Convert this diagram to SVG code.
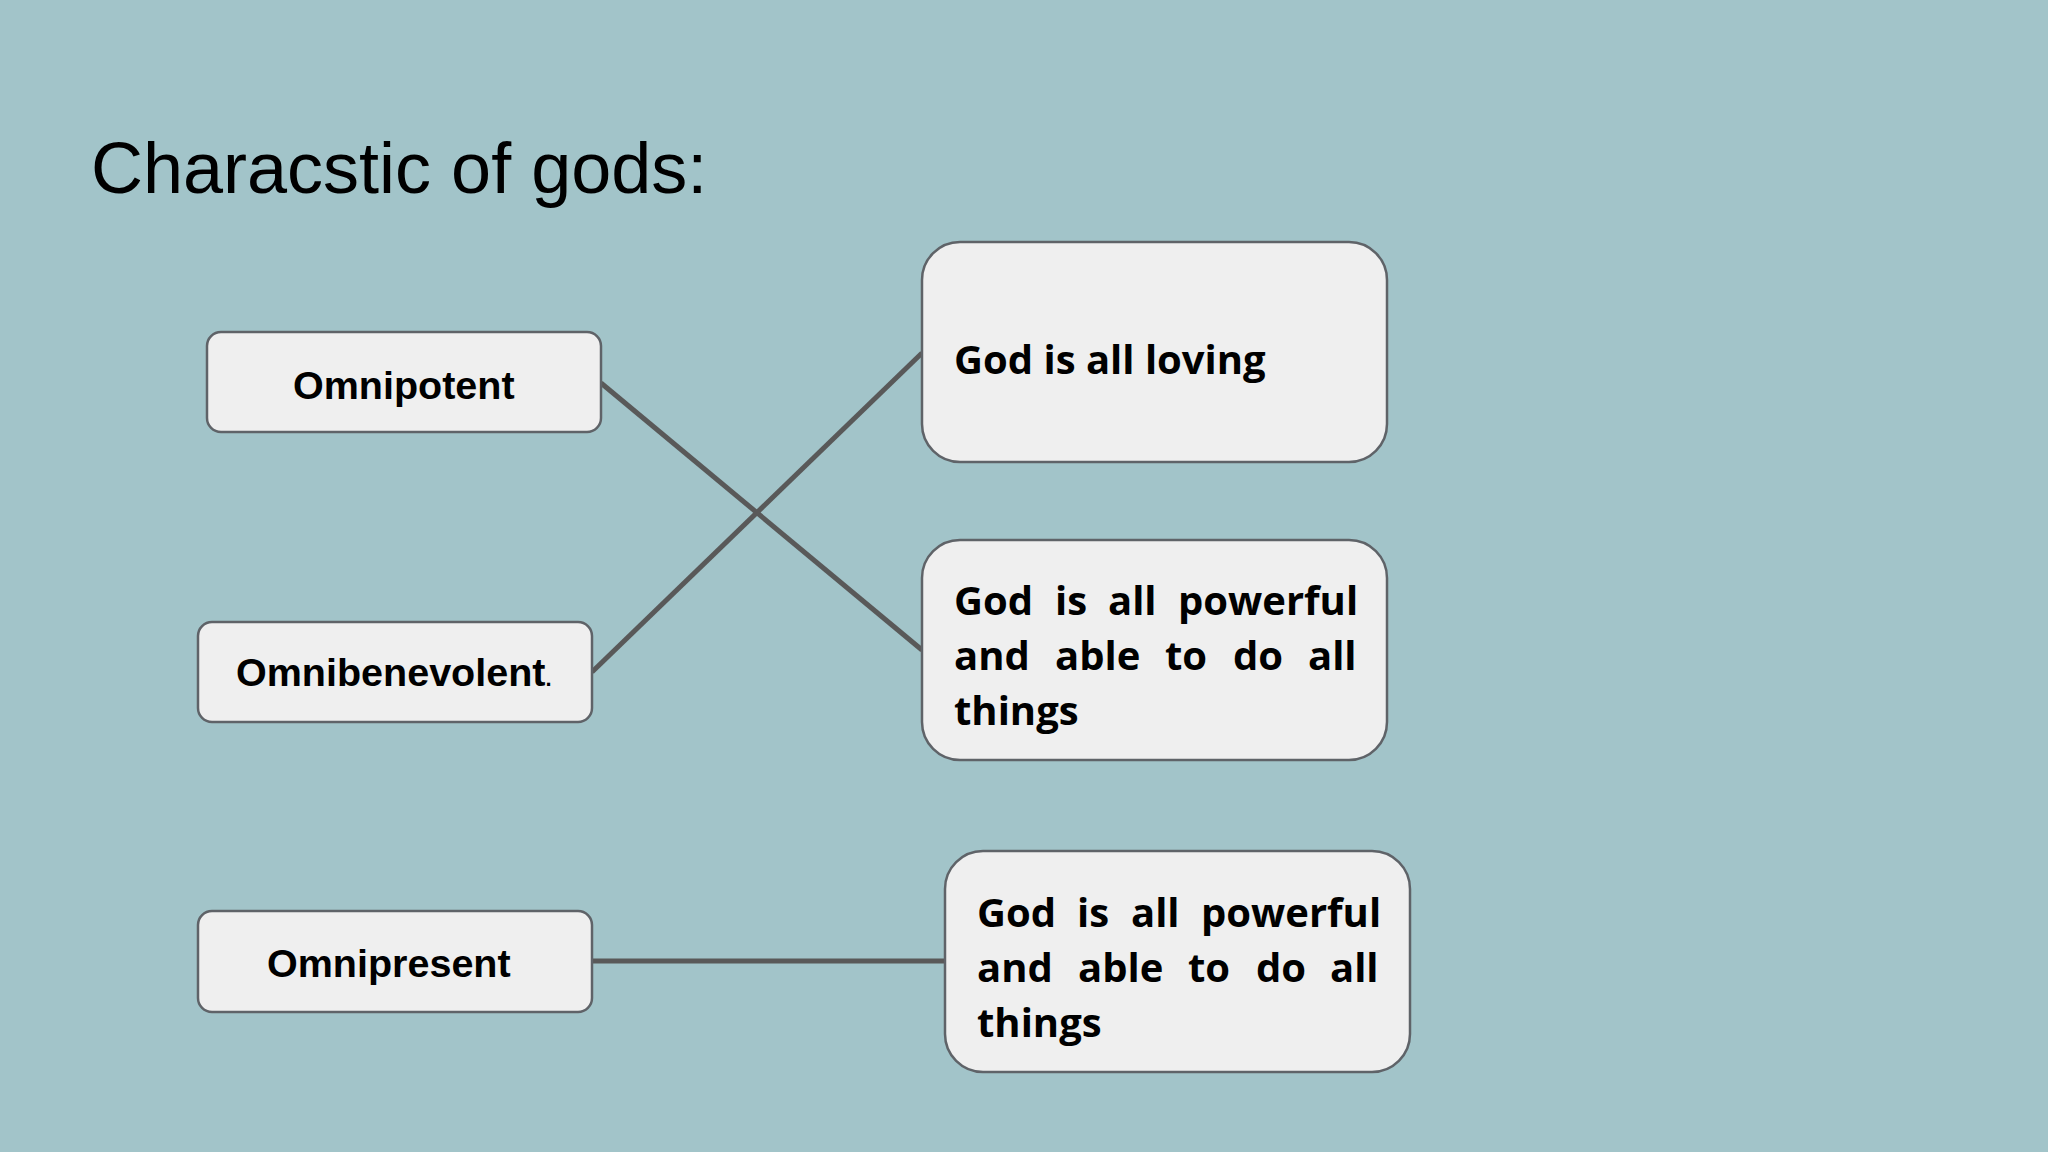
<svg xmlns="http://www.w3.org/2000/svg" width="2048" height="1152" viewBox="0 0 2048 1152">
<style>
.box{fill:#efefef;stroke:#5f6368;stroke-width:2.5}
.lbl{font-family:"Liberation Sans",Arial,sans-serif;font-weight:bold;font-size:39.5px;fill:#000}
.txt{font-family:"Open Sans","Noto Sans",sans-serif;font-weight:bold;font-size:40px;fill:#000}
.conn{stroke:#595959;stroke-width:5;fill:none}
</style>
<rect width="2048" height="1152" fill="#a2c4c9"/>
<text x="91" y="193" font-family="Liberation Sans, Arial, sans-serif" font-size="72" fill="#000">Characstic of gods:</text>
<g id="connectors">
<line class="conn" x1="601" y1="383" x2="922" y2="650"/>
<line class="conn" x1="592" y1="672" x2="922" y2="353"/>
<line class="conn" x1="592" y1="961" x2="945" y2="961"/>
</g>
<g id="omnipotent">
<rect class="box" x="207" y="332" width="394" height="100" rx="14"/>
<text class="lbl" x="293" y="399">Omnipotent</text>
</g>
<g id="omnibenevolent">
<rect class="box" x="198" y="622" width="394" height="100" rx="14"/>
<text class="lbl" x="236" y="686">Omnibenevolent<tspan font-size="22">.</tspan></text>
</g>
<g id="omnipresent">
<rect class="box" x="198" y="911" width="394" height="101" rx="14"/>
<text class="lbl" x="267" y="977">Omnipresent</text>
</g>
<g id="loving">
<rect class="box" x="922" y="242" width="465" height="220" rx="38"/>
<text class="txt" x="954" y="374">God is all loving</text>
</g>
<g id="powerful1">
<rect class="box" x="922" y="540" width="465" height="220" rx="38"/>
<text class="txt" y="615"><tspan x="954">God</tspan><tspan x="1055">is</tspan><tspan x="1108">all</tspan><tspan x="1178">powerful</tspan></text>
<text class="txt" y="670"><tspan x="954">and</tspan><tspan x="1055">able</tspan><tspan x="1165">to</tspan><tspan x="1233">do</tspan><tspan x="1308">all</tspan></text>
<text class="txt" x="954" y="725">things</text>
</g>
<g id="powerful2">
<rect class="box" x="945" y="851" width="465" height="221" rx="38"/>
<text class="txt" y="927"><tspan x="977">God</tspan><tspan x="1077">is</tspan><tspan x="1131">all</tspan><tspan x="1201">powerful</tspan></text>
<text class="txt" y="982"><tspan x="977">and</tspan><tspan x="1078">able</tspan><tspan x="1188">to</tspan><tspan x="1256">do</tspan><tspan x="1330">all</tspan></text>
<text class="txt" x="977" y="1037">things</text>
</g>
</svg>
